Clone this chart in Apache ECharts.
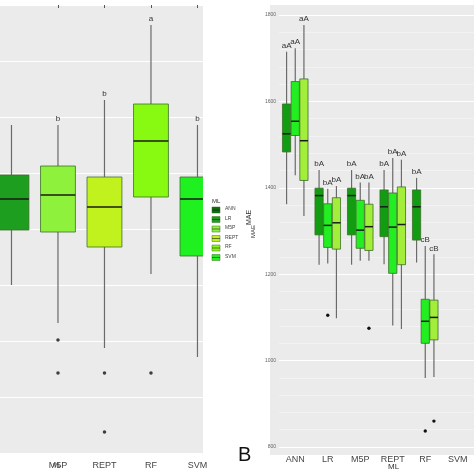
<!DOCTYPE html><html><head><meta charset="utf-8">
<script src="https://cdn.jsdelivr.net/npm/echarts@6/dist/echarts.min.js"></script>
<style>html,body{margin:0;padding:0;background:#fff}#c{width:474px;height:474px}</style></head><body><div id="c"></div>
<script>
const models=['ANN','LR','M5P','REPT','RF','SVM'];
// Panel A (scale: pixel-like units, top=0), [low,q1,med,q3,high]
const leftStats=[null,[280,225,194,170,120],[318,227,190,161,120],[343,242,202,172,95],[269,192,136,99,20],[352,251,194,172,120]];
const leftLabels=['','','b','b','a','b'];
const leftOutliers=[[2,335],[2,368],[3,368],[3,427],[4,368]];
const leftColors=['#0a6e0a','#1e9e1e','#8ef23c','#c2f21e','#88fa12','#1ff01f'];
// Panel B three groups
const rightStats=[
 [[1362,1483,1525,1594,1715],[1222,1291,1382,1399,1441],[1222,1291,1382,1399,1441],[1223,1287,1356,1395,1441],[1227,1279,1356,1395,1423]],
 [[1429,1521,1554,1646,1723],[1225,1262,1313,1363,1398],[1231,1260,1302,1371,1412],[1081,1202,1309,1388,1469],[960,1040,1091,1142,1265]],
 [[1335,1417,1509,1652,1777],[1098,1258,1319,1377,1404],[1231,1255,1310,1362,1412],[1073,1222,1315,1402,1465],[962,1048,1100,1140,1246]]];
const rightLabels=[['aA','bA','bA','bA','bA'],['aA','bA','bA','bA','cB'],['aA','bA','bA','bA','cB']];
const rightOutliers=[[],[[1,1105],[4,837]],[[2,1075],[4,860]]];
const rightColors=['#129c12','#22ee22','#a2ee3a'];
const yTicksB=[800,1000,1200,1400,1600,1800];

function boxRender(frac,off,fill){
  return function(params,api){
    const i=api.value(0);
    const v=[api.value(1),api.value(2),api.value(3),api.value(4),api.value(5)];
    const band=api.size([1,0])[0];
    const c=api.coord([i,v[2]]);
    const x=c[0]+off*band, w=frac*band;
    const y=v.map(t=>api.coord([i,t])[1]);
    const lab=api.value(6);
    const top=Math.min(y[0],y[4]);
    return {type:'group',children:[
      {type:'line',shape:{x1:x,y1:y[0],x2:x,y2:y[4]},style:{stroke:'#6a6a6a',lineWidth:1.2}},
      {type:'rect',shape:{x:x-w/2,y:Math.min(y[1],y[3]),width:w,height:Math.abs(y[1]-y[3])},style:{fill:fill,stroke:'#3c6e2a',lineWidth:0.8}},
      {type:'line',shape:{x1:x-w/2,y1:y[2],x2:x+w/2,y2:y[2]},style:{stroke:'#1a1a1a',lineWidth:1.5}},
      {type:'text',style:{text:lab,x:x,y:top-2,align:'center',verticalAlign:'bottom',fill:'#333',font:'8px Liberation Sans'}}
    ]};
  };
}
const series=[];
leftStats.forEach((s,i)=>{ if(!s) return;
  series.push({type:'custom',xAxisIndex:0,yAxisIndex:0,renderItem:boxRender(0.75,0,leftColors[i]),
    data:[[i,s[0],s[1],s[2],s[3],s[4],leftLabels[i]]],z:3,clip:true});
});
series.push({type:'scatter',xAxisIndex:0,yAxisIndex:0,symbolSize:3.5,itemStyle:{color:'#111'},data:leftOutliers,z:4});
const offs=[-0.267,0,0.267];
rightStats.forEach((grp,g)=>{
  series.push({type:'custom',xAxisIndex:1,yAxisIndex:1,renderItem:boxRender(0.253,offs[g],rightColors[g]),
    data:grp.map((s,i)=>[i,s[0],s[1],s[2],s[3],s[4],rightLabels[g][i]]),z:3});
  series.push({type:'custom',xAxisIndex:1,yAxisIndex:1,data:rightOutliers[g],z:4,
    renderItem:(p,api)=>{const band=api.size([1,0])[0];const c=api.coord([api.value(0),api.value(1)]);
      return {type:'circle',shape:{cx:c[0]+offs[g]*band,cy:c[1],r:1.7},style:{fill:'#111'}};}});
});
const axisLab={color:'#444',fontSize:9,fontFamily:'Liberation Sans'};
const chart=echarts.init(document.getElementById('c'));
chart.setOption({
  animation:false,
  graphic:[
    {type:'rect',shape:{x:0,y:5,width:203,height:448},style:{fill:'#ebebeb'},z:-100},
    {type:'rect',shape:{x:270,y:5,width:210,height:450},style:{fill:'#ebebeb'},z:-100},
    {type:'text',style:{text:'ML',x:212,y:198,fill:'#333',font:'6px Liberation Sans'}},
    ...models.map((m,i)=>({type:'group',children:[
      {type:'rect',shape:{x:212,y:207+i*9.5,width:8,height:6},style:{fill:leftColors[i],stroke:'#3c6e2a',lineWidth:0.5}},
      {type:'line',shape:{x1:212,y1:210+i*9.5,x2:220,y2:210+i*9.5},style:{stroke:'#222',lineWidth:0.6}},
      {type:'text',style:{text:m,x:225,y:206.5+i*9.5,fill:'#444',font:'5px Liberation Sans'}}]})),
    {type:'text',rotation:Math.PI/2,x:246,y:225,style:{text:'MAE',fill:'#333',font:'7px Liberation Sans'}},
    {type:'text',rotation:Math.PI/2,x:250,y:238,style:{text:'MAE',fill:'#333',font:'6px Liberation Sans'}},
    {type:'text',style:{text:'B',x:238,y:445,fill:'#111',font:'20px Liberation Sans'}},
    {type:'text',style:{text:'ML',x:53,y:462,fill:'#333',font:'6px Liberation Sans'}},
    {type:'text',style:{text:'ML',x:388,y:463,fill:'#333',font:'8px Liberation Sans'}}
  ],
  grid:[{left:0,top:5,width:203,height:448},{left:279,top:15,width:225,height:432}],
  xAxis:[
    {type:'value',gridIndex:0,min:0.753,max:5.119,axisLine:{show:false},
     axisTick:{length:3,customValues:[2,3,4,5],lineStyle:{color:'#555'}},
     axisLabel:Object.assign({},axisLab,{customValues:[2,3,4,5],formatter:v=>models[Math.round(v)],showMinLabel:true,showMaxLabel:true}),
     splitLine:{show:false}},
    {type:'category',gridIndex:1,data:models,axisLine:{show:false},axisTick:{length:3,alignWithLabel:true,lineStyle:{color:'#555'}},axisLabel:Object.assign({},axisLab,{margin:8}),splitLine:{show:false}}],
  yAxis:[
    {type:'value',gridIndex:0,inverse:true,min:0,max:448,interval:56,axisLabel:{show:false},axisLine:{show:false},axisTick:{show:false},splitLine:{lineStyle:{color:'#fff',width:1}}},
    {type:'value',gridIndex:1,min:yTicksB[0],max:yTicksB[yTicksB.length-1],interval:200,axisLine:{show:false},
     axisTick:{length:2,lineStyle:{color:'#777'}},axisLabel:{color:'#666',fontSize:5,margin:3,formatter:v=>String(v)},
     splitLine:{lineStyle:{color:'#fff',width:1}},minorTick:{show:false},minorSplitLine:{show:true,lineStyle:{color:'#f6f6f6',width:0.6}}}],
  series:series
});
</script></body></html>
